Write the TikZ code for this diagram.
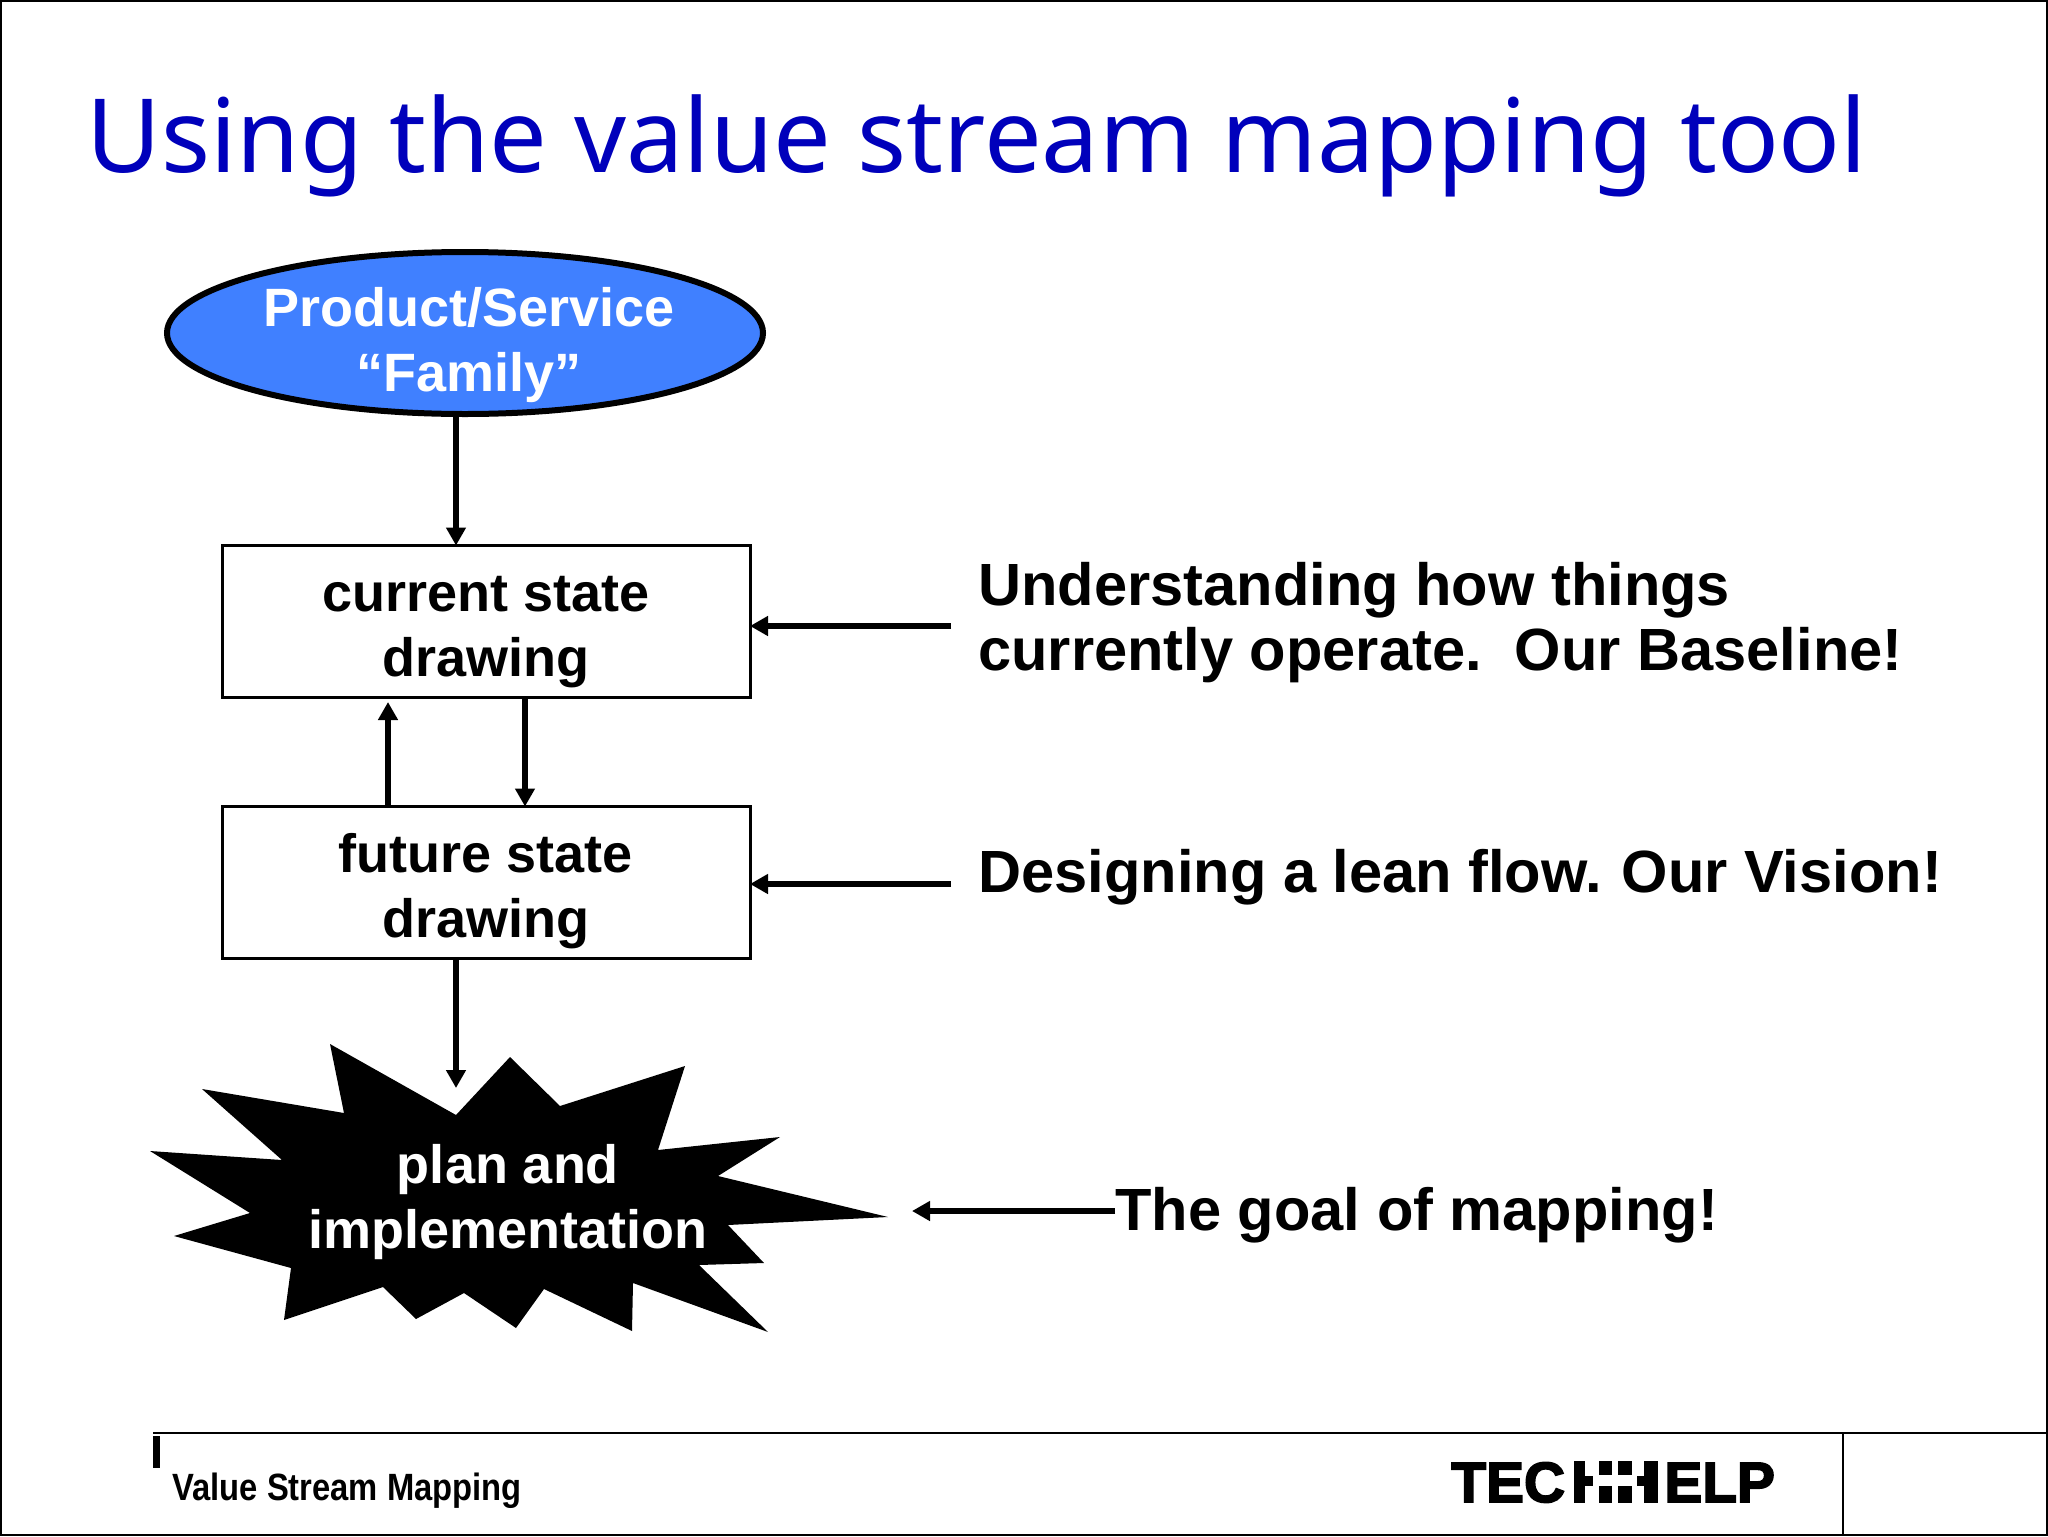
\documentclass[tikz,border=0pt]{standalone}
\usepackage{fontspec}
\setmainfont{Liberation Sans}[BoldFont=* Bold]
\newfontfamily\titlefont{Noto Sans}
\newfontfamily\logofont{Liberation Sans}[UprightFont=* Bold,UprightFeatures={FakeBold=3}]
\usetikzlibrary{arrows.meta,shapes.geometric}
\definecolor{titleblue}{HTML}{0000BB}
\definecolor{famblue}{HTML}{4080FF}
\frenchspacing
\tikzset{
  x=0.5pt,y=-0.5pt,
  arr/.style={line width=2.9pt,-{Triangle[width=9.5pt,length=9pt]}},
  rule/.style={line width=1pt,black},
  boxtext/.style={font=\bfseries\fontsize{27}{32.5}\selectfont,align=center,inner sep=0pt},
  sidetext/.style={font=\bfseries\fontsize{29.8}{32.5}\selectfont,align=left,inner sep=0pt,anchor=west},
  statebox/.style={draw=black,line width=1.5pt,rectangle,outer sep=0pt,minimum width=264pt,minimum height=76pt},
  logotext/.style={font=\logofont\fontsize{28.4}{30}\selectfont,inner sep=0pt,anchor=base west},
}
\begin{document}
\begin{tikzpicture}
\useasboundingbox (0,0) rectangle (2048,1536);
\fill[white] (0,0) rectangle (2048,1536);
\draw[line width=1pt] (1,1) rectangle (2047,1535);
% title
\node[font=\titlefont\fontsize{51.2}{56}\selectfont,text=titleblue,anchor=base west,inner sep=0pt] (title) at (86,172) {Using the value stream mapping tool};
% ellipse
\node[ellipse,draw=black,line width=3pt,fill=famblue,outer sep=0pt,minimum width=298pt,minimum height=81pt,inner sep=0pt] (family) at (465,333) {};
\node[boxtext,text=white] (familytext) at (469,345) {Product/Service\\“Family”};
% boxes
\node[statebox] (current) at (486,621.5) {};
\node[boxtext] (currenttext) at (486,632) {current state\\drawing};
\node[statebox] (future) at (486,882.5) {};
\node[boxtext] (futuretext) at (486,891) {future state\\drawing};
% star
\path[fill=black] (330,1044)--(456,1115)--(510,1057)--(560,1106)--(685,1066)--(658,1150)--(780,1137)--(718,1176)--(888,1217)--(728,1225)--(764,1263)--(699,1265)--(768,1332)--(633,1283)--(632,1331)--(544,1289)--(516,1328)--(464,1293)--(416,1319)--(383,1287)--(284,1320)--(291,1268)--(174,1236)--(250,1213)--(150,1151)--(282,1160)--(202,1089)--(344,1113)--cycle;
\node[boxtext,text=white] (plan) at (508,1202.5) {plan and\\implementation};
% side labels
\node[sidetext] (understand) at (978,622.5) {Understanding how things\\currently operate.\ \ Our Baseline!};
\node[sidetext] (design) at (978,877) {Designing a lean flow.\kern1.5pt{} Our Vision!};
\node[sidetext] (goal) at (1115,1215) {The goal of mapping!};
% connector ends
\coordinate (a1) at (456,0);
\coordinate (a2) at (388,0);
\coordinate (a3) at (525,0);
\coordinate (l1) at (951,626);
\coordinate (l2) at (951,884);
\coordinate (starTop) at (456,1088);
\coordinate (starRight) at (912,1211);
\draw[arr] (a1 |- family.south) -- (a1 |- current.north);
\draw[arr] (a2 |- future.north) -- (388,702);
\draw[arr] (a3 |- current.south) -- (a3 |- future.north);
\draw[arr] (a1 |- future.south) -- (starTop);
\draw[arr] (l1) -- (current.east |- l1);
\draw[arr] (l2) -- (future.east |- l2);
\draw[arr] (goal.west |- starRight) -- (starRight);
% footer
\draw[rule] (153,1433) -- (2048,1433);
\draw[rule] (1843,1433) -- (1843,1536);
\fill (153,1436) rectangle (160,1468);
\node[anchor=base west,inner sep=0pt,font=\bfseries\fontsize{19}{22}\selectfont] (vsm) at (172,1500) {\scalebox{0.862}[1]{Value Stream Mapping}};
% logo
\node[logotext] (tec) at (1451,1502) {TEC};
\node[logotext] (elp) at (1664,1502) {ELP};
\fill (1574,1461) rectangle (1585,1503);
\fill (1585,1476) rectangle (1593,1486);
\fill (1644,1461) rectangle (1658,1503);
\fill (1637,1476) rectangle (1644,1486);
\fill (1599,1461) rectangle (1612,1475);
\fill (1618,1461) rectangle (1632,1475);
\fill (1599,1486) rectangle (1612,1503);
\fill (1618,1486) rectangle (1632,1503);
\end{tikzpicture}
\end{document}
